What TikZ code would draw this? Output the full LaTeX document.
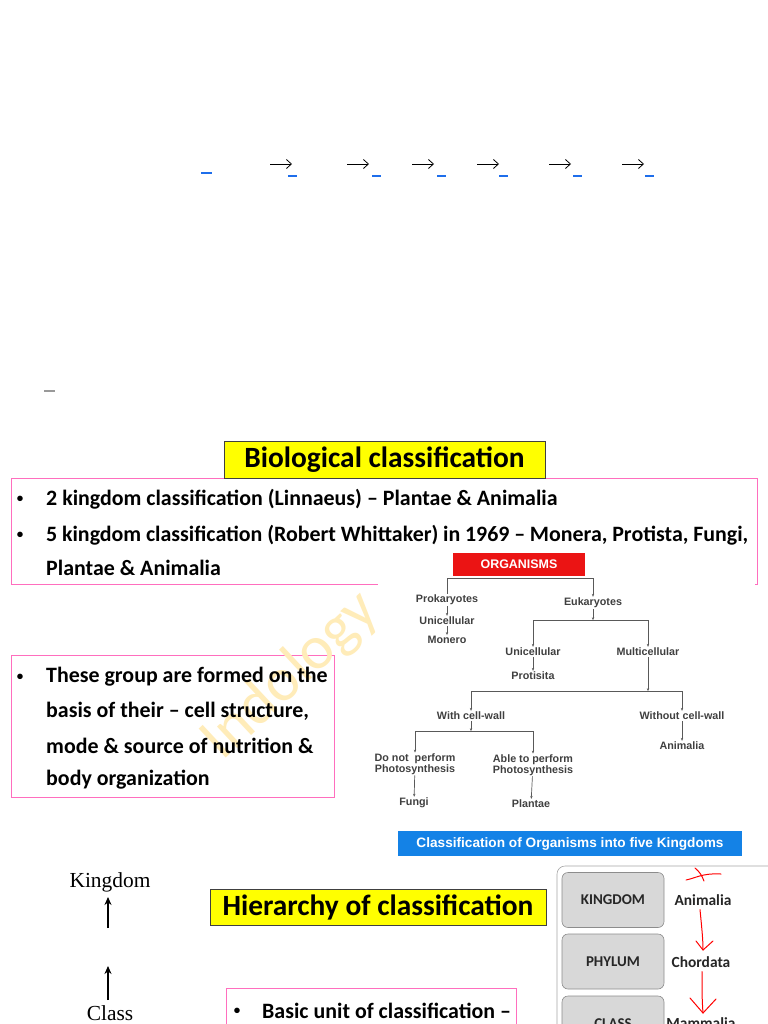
\documentclass[tikz,border=0pt]{standalone}
\usepackage{fontspec}
\setmainfont{Carlito}
\newfontfamily\chartfam{Liberation Sans}
\newfontfamily\serifam{Liberation Serif}
\usepackage{tikz}
\usetikzlibrary{arrows.meta,calc,positioning}
\definecolor{boxpink}{RGB}{255,110,190}
\definecolor{titleyellow}{RGB}{255,255,0}
\definecolor{orgred}{RGB}{235,20,20}
\definecolor{bannerblue}{RGB}{20,130,230}
\definecolor{wmyellow}{RGB}{255,236,185}
\definecolor{penblue}{RGB}{30,110,235}
\definecolor{rankgray}{RGB}{216,216,216}
\tikzset{
  pinkbox/.style   = {draw=boxpink, line width=1pt},
  titlebox/.style  = {draw=black!75, fill=titleyellow, line width=0.8pt,
                      font=\fontsize{29.5}{34}\selectfont\bfseries, inner sep=0pt},
  bullet/.style    = {font=\fontsize{13}{16}\selectfont\bfseries, inner sep=0pt},
  btext/.style     = {font=\fontsize{22}{26}\selectfont\bfseries, inner sep=0pt, anchor=west},
  chartlbl/.style  = {font=\chartfam\fontsize{10.8}{12.5}\selectfont\bfseries, text=black!75,
                      align=center, inner sep=1pt},
  chartline/.style = {line width=0.7pt, black!65},
  chartarr/.style  = {chartline, -{Stealth[length=3pt,width=2.4pt]}},
  sketcharr/.style = {line width=0.8pt, -{Straight Barb[length=5bp,width=9bp]}},
  pendash/.style   = {penblue, line width=1.3pt},
  rankbox/.style   = {draw=black!45, fill=rankgray, rounded corners=6bp, line width=0.6pt,
                      minimum width=102bp, minimum height=55bp,
                      font=\fontsize{15}{18}\selectfont\bfseries, text=black!85},
  ranklbl/.style   = {font=\fontsize{15.5}{19}\selectfont\bfseries, text=black!85, inner sep=0pt},
  redpen/.style    = {red, line width=1pt, line cap=round},
}

\begin{document}
\begin{tikzpicture}[x=1bp,y=-1bp]
  \useasboundingbox (0,0) rectangle (768,1024);
  \clip (0,0) rectangle (768,1024);
  \fill[white] (0,0) rectangle (768,1024);

  % ---------------- sketched arrows at the top ---------------------------
  \draw[pendash] (201,173) -- (212,173);
  \foreach \ax/\dx in {270/288, 347/372, 412/437, 477/499, 549/573, 622/645}{
    \coordinate (a\ax) at (\ax,164);
    \draw[sketcharr] (a\ax) -- ++(22,0);
    \draw[pendash] (\dx,176) -- ++(9,0);
  }
  \draw[black!40, line width=1.2pt] (44,391) -- (55,391);

  % ---------------- biological classification ----------------------------
  \draw[pinkbox] (11,478) rectangle (757,584);
  \node[titlebox, minimum width=321bp, minimum height=37bp] (biotitle) at (384.5,459.5)
       {Biological classification};
  \node[bullet] (dot1) at (20,499) {\textbullet};
  \node[btext] (line1) at (46,499) {2 kingdom classification (Linnaeus) – Plantae \& Animalia};
  \node[bullet] (dot2) at (20,535) {\textbullet};
  \node[btext] (line2) at (46,535)
       {\makebox[702bp][s]{5 kingdom classification (Robert Whittaker) in 1969 – Monera, Protista, Fungi,}};
  \node[btext] (line3) at (46,568) {Plantae \& Animalia};

  % ---------------- basis box and watermark ------------------------------
  \draw[pinkbox] (11,655) rectangle (334,797);
  \node[rotate=43, anchor=south west, text=wmyellow, inner sep=0pt,
        font=\fontsize{62}{68}\selectfont] (wmark) at (230,770) {Indology};
  \node[bullet] (dot3) at (20,677) {\textbullet};
  \node[btext] (basis1) at (46,677) {These group are formed on the};
  \node[btext] (basis2) at (46,711) {basis of their – cell structure,};
  \node[btext] (basis3) at (46,746) {mode \& source of nutrition \&};
  \node[btext] (basis4) at (46,780) {body organization};

  % ---------------- five kingdom chart -----------------------------------
  \fill[white] (378,546) rectangle (755,860);
  \node[fill=orgred, minimum width=132bp, minimum height=23bp, inner sep=0pt,
        text=white, font=\chartfam\fontsize{12.5}{14}\selectfont\bfseries] (org) at (519,564.5) {ORGANISMS};
  \node[chartlbl] (prok)   at (447,600) {Prokaryotes};
  \node[chartlbl] (puni)   at (447,621) {Unicellular};
  \node[chartlbl] (mon)    at (447,640) {Monero};
  \node[chartlbl] (euk)    at (593,603) {Eukaryotes};
  \node[chartlbl] (euni)   at (533,652) {Unicellular};
  \node[chartlbl] (multi)  at (648,652) {Multicellular};
  \node[chartlbl] (prot)   at (533,676) {Protisita};
  \node[chartlbl] (wall)   at (471,716) {With cell-wall};
  \node[chartlbl] (nowall) at (682,716) {Without cell-wall};
  \node[chartlbl] (anim)   at (682,746) {Animalia};
  \node[chartlbl] (nophot) at (415,764) {Do not\ \ perform\\[-2pt]Photosynthesis};
  \node[chartlbl] (phot)   at (533,765) {Able to perform\\[-2pt]Photosynthesis};
  \node[chartlbl] (fungi)  at (414,803) {Fungi};
  \node[chartlbl] (plant)  at (531,804) {Plantae};

  \coordinate (orgk) at ($(org.south)+(0,2)$);
  \draw[chartline] (orgk) -| (prok.north);
  \draw[chartarr]  (orgk) -| (euk.north);
  \draw[chartarr]  (prok) -- (puni);
  \draw[chartarr]  (puni) -- (mon);
  \coordinate (eukk) at ($(euk.south)+(0,11)$);
  \draw[chartarr]  (euk.south) -- (eukk);
  \draw[chartarr]  (eukk) -| (euni.north);
  \draw[chartarr]  (eukk) -| (multi.north);
  \draw[chartarr]  (euni) -- (prot);
  \coordinate (multk) at ($(multi.south)+(0,34)$);
  \draw[chartarr]  (multi.south) -- (multk);
  \draw[chartarr]  (multk) -| (wall.north);
  \draw[chartarr]  (multk) -| (nowall.north);
  \draw[chartarr]  (nowall) -- (anim);
  \coordinate (wallk) at ($(wall.south)+(0,10)$);
  \draw[chartarr]  (wall.south) -- (wallk);
  \draw[chartarr]  (wallk) -| (nophot.north);
  \draw[chartarr]  (wallk) -| (phot.north);
  \draw[chartarr]  (nophot) -- (fungi);
  \draw[chartarr]  (phot) -- (plant);

  \node[fill=bannerblue, minimum width=344bp, minimum height=25bp, inner sep=0pt,
        text=white, font=\chartfam\fontsize{13.7}{16}\selectfont\bfseries] (banner) at (570,843.5)
       {Classification of Organisms into five Kingdoms};

  % ---------------- hierarchy --------------------------------------------
  \node[font=\serifam\fontsize{21.5}{24}\selectfont, inner sep=0pt] (kingdom) at (110,882) {Kingdom};
  \node[font=\serifam\fontsize{21.5}{24}\selectfont, inner sep=0pt] (class) at (110,1013) {Class};
  \coordinate (up1) at (108,928);
  \coordinate (up2) at (108,1000);
  \draw[line width=1.3pt, -{Stealth[length=8bp,width=7bp]}] (up1) -- ++(0,-31);
  \draw[line width=1.3pt, -{Stealth[length=8bp,width=7bp]}] (up2) -- ++(0,-34);

  \node[titlebox, minimum width=336bp, minimum height=36bp] (hiertitle) at (378,907.5)
       {Hierarchy of classification};

  \draw[pinkbox] (226,988) rectangle (516,1040);
  \node[bullet] (dot4) at (237,1011) {\textbullet};
  \node[btext] (unit) at (262,1011) {Basic unit of classification –};

  % ---------------- ranks panel ------------------------------------------
  \draw[black!35, line width=0.6pt, rounded corners=8bp] (557,866) rectangle (790,1040);
  \node[rankbox] (rking) at (613,900) {KINGDOM};
  \node[rankbox] (rphyl) at (613,961.5) {PHYLUM};
  \node[rankbox] (rclas) at (613,1023.5) {CLASS};
  \node[ranklbl] (tanim) at (703,900) {Animalia};
  \node[ranklbl] (tchor) at (701,962) {Chordata};
  \node[ranklbl] (tmamm) at (701,1023) {Mammalia};

  \draw[redpen] (686,880) .. controls (696,878) and (702,873) .. (721,874);
  \draw[redpen] (695,868) .. controls (700,872) and (702,876) .. (704,881);
  \draw[redpen] (tanim.south) ++(-3,4) .. controls (702,930) and (703,940) .. (703,950);
  \draw[redpen] (696,941) -- (703,950) -- (713,941);
  \draw[redpen] (tchor.south) ++(1,4) .. controls (702,990) and (702,1000) .. (703,1013);
  \draw[redpen] (690,998) -- (703,1013) -- (716,999);
\end{tikzpicture}
\end{document}
